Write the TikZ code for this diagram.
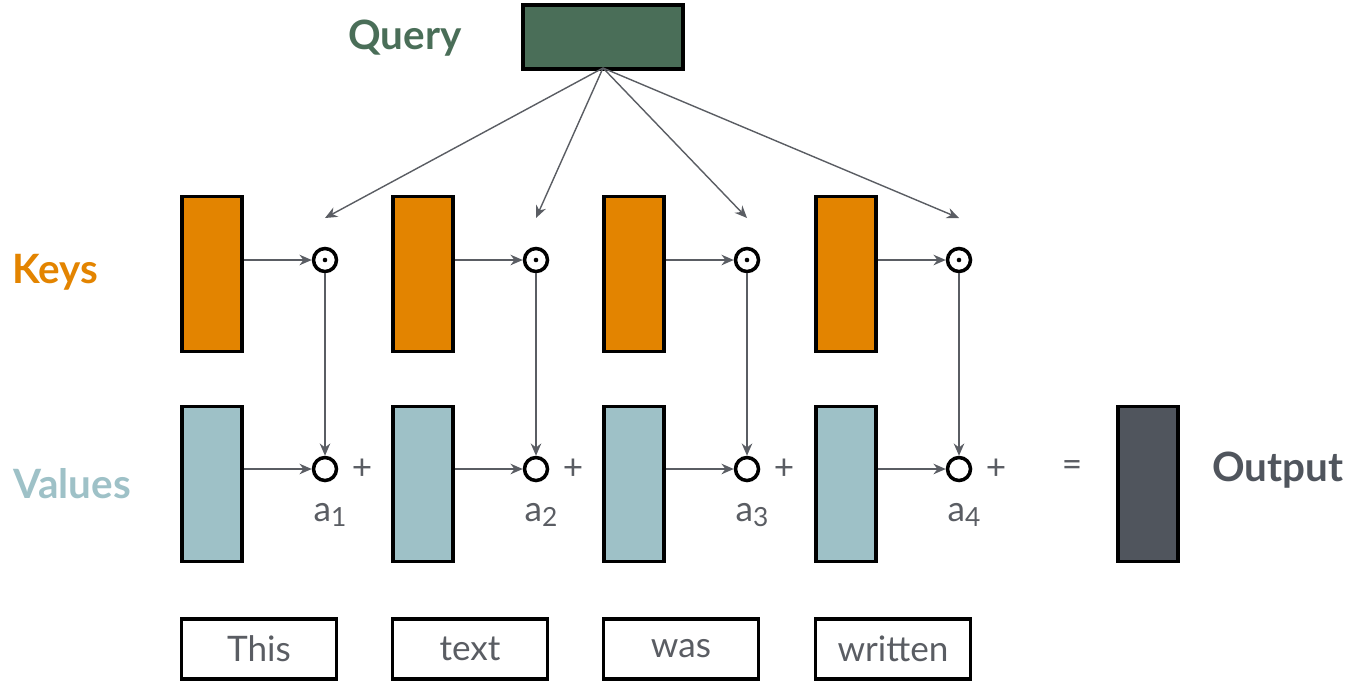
\documentclass[tikz,border=0pt]{standalone}
\usepackage{fontspec}
\setmainfont{Lato}
\usetikzlibrary{positioning, arrows.meta, calc}
\definecolor{querygreen}{HTML}{4A6E58}
\definecolor{keyorange}{HTML}{E38400}
\definecolor{valueblue}{HTML}{9EC1C7}
\definecolor{outgray}{HTML}{50555D}
\definecolor{txtgray}{HTML}{5A5D63}
\begin{document}
\begin{tikzpicture}[
    >={Stealth[length=7pt,width=6pt]},
    x=0.02cm, y=-0.02cm,
    vec/.style={draw=black, line width=2.2pt, minimum width=1.2cm, minimum height=3.1cm, inner sep=0pt},
    word/.style={draw=black, line width=2.2pt, minimum width=3.1cm, minimum height=1.2cm, inner sep=0pt, font=\fontsize{20}{20}\selectfont, text=txtgray},
    op/.style={circle, draw=black, line width=2pt, minimum size=0.46cm, inner sep=0pt},
    lab/.style={font=\fontsize{23}{23}\selectfont\bfseries},
    conn/.style={->, draw=txtgray, line width=0.8pt},
    small/.style={font=\fontsize{20}{20}\selectfont, text=txtgray}
]
    \useasboundingbox (0,0) rectangle (1358,684);

    % --- Query ---
    \node[draw=black, line width=2.2pt, fill=querygreen, minimum width=3.2cm, minimum height=1.28cm, inner sep=0pt] (query) at (603,37) {};
    \node[lab, text=querygreen] (qlab) at (405,38) {Query};
    \coordinate (qout) at (603,68);

    % --- Row labels ---
    \node[lab, text=keyorange] (klab) at (55,272) {Keys};
    \node[lab, text=valueblue] (vlab) at (72,484) {Values};

    % --- Columns ---
    \foreach \i/\x/\w in {1/212/This, 2/423/text, 3/634/was, 4/846/written} {
        \node[vec, fill=keyorange] (key\i) at (\x,274) {};
        \node[vec, fill=valueblue] (val\i) at (\x,484) {};
        \node[op] (dot\i) at (\x+113,260) {};
        \fill (dot\i) circle (1.3pt);
        \coordinate (tip\i) at (\x+113,218);
        \node[op] (mul\i) at (\x+113,469) {};
        \node[small] (plus\i) at (\x+150,469) {+};
        \node[small] (a\i) at (\x+118,515) {a\raisebox{-0.3ex}{\fontsize{15}{15}\selectfont\i}};
        \node[word] (word\i) at (\x+47,649) {\w};
        \draw[conn] (key\i.east |- dot\i) -- (dot\i);
        \draw[conn] (val\i.east |- mul\i) -- (mul\i);
        \draw[conn] (dot\i) -- (mul\i);
        \draw[conn] (qout) -- (tip\i);
    }

    % --- Output ---
    \node[small] (eq) at (1072,469) {=};
    \node[vec, fill=outgray] (out) at (1148,484) {};
    \node[lab, text=outgray] (olab) at (1278,470) {Output};
\end{tikzpicture}
\end{document}
